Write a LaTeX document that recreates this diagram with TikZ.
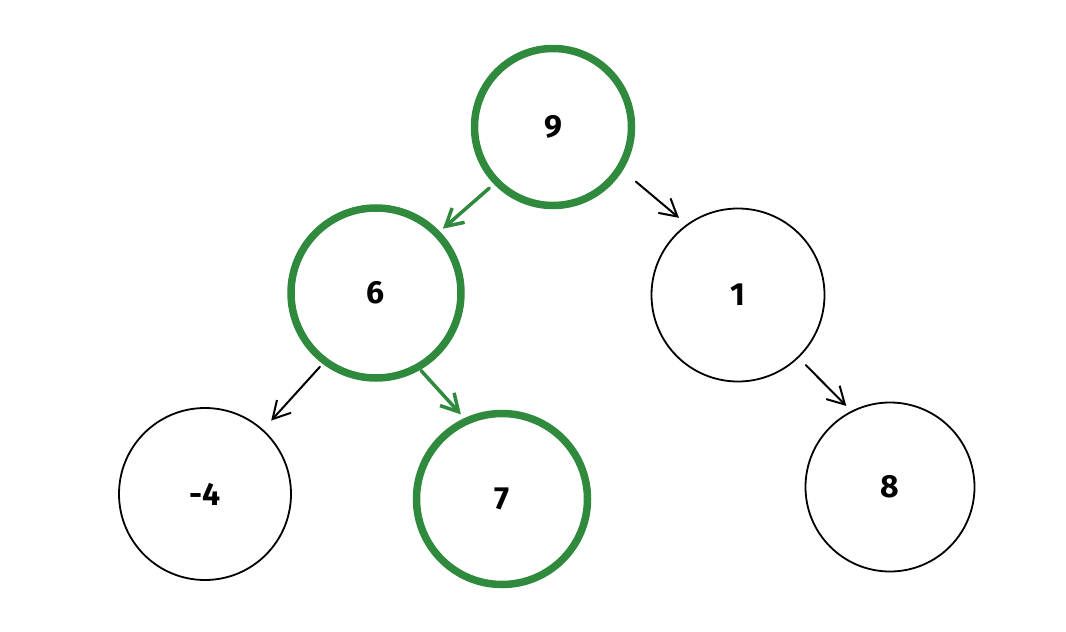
\documentclass[tikz,border=0pt]{standalone}
\usepackage{fontspec}
\setmainfont{Fira Sans}
\usetikzlibrary{arrows.meta}
\definecolor{grn}{RGB}{47,138,62}
\begin{document}
\begin{tikzpicture}[x=1pt,y=-1pt,
  vtx/.style={circle, draw=black, line width=1.8pt, inner sep=0pt,
    font=\fontsize{32}{38}\selectfont\bfseries},
  hot/.style={draw=grn, line width=7.5pt},
  edge/.style={-{Straight Barb[length=17pt,width=19pt]}, line width=2pt,
    line cap=round},
  hotedge/.style={edge, draw=grn, line width=3.5pt}
]
\useasboundingbox (0,0) rectangle (1066,632);
\node[vtx,hot,minimum size=157pt] (n9) at (553,127) {9};
\node[vtx,hot,minimum size=170pt] (n6) at (376,293) {6};
\node[vtx,minimum size=173pt] (n1) at (738,295) {1};
\node[vtx,minimum size=172pt] (nm4) at (205,494) {-4};
\node[vtx,hot,minimum size=171pt] (n7) at (502,499) {7};
\node[vtx,minimum size=169pt] (n8) at (890,487) {8};
\draw[hotedge, shorten <=6pt, shorten >=4pt] (n9.-136) -- (n6.44);
\draw[edge, shorten <=17pt, shorten >=10pt] (n9.-32) -- (n1.126);
\draw[edge, shorten <=4pt, shorten >=12pt] (n6.-127) -- (nm4.48);
\draw[hotedge, shorten <=1pt, shorten >=5pt] (n6.-60) -- (n7.115);
\draw[edge, shorten <=10pt, shorten >=7pt] (n1.-46) -- (n8.117);
\end{tikzpicture}
\end{document}
